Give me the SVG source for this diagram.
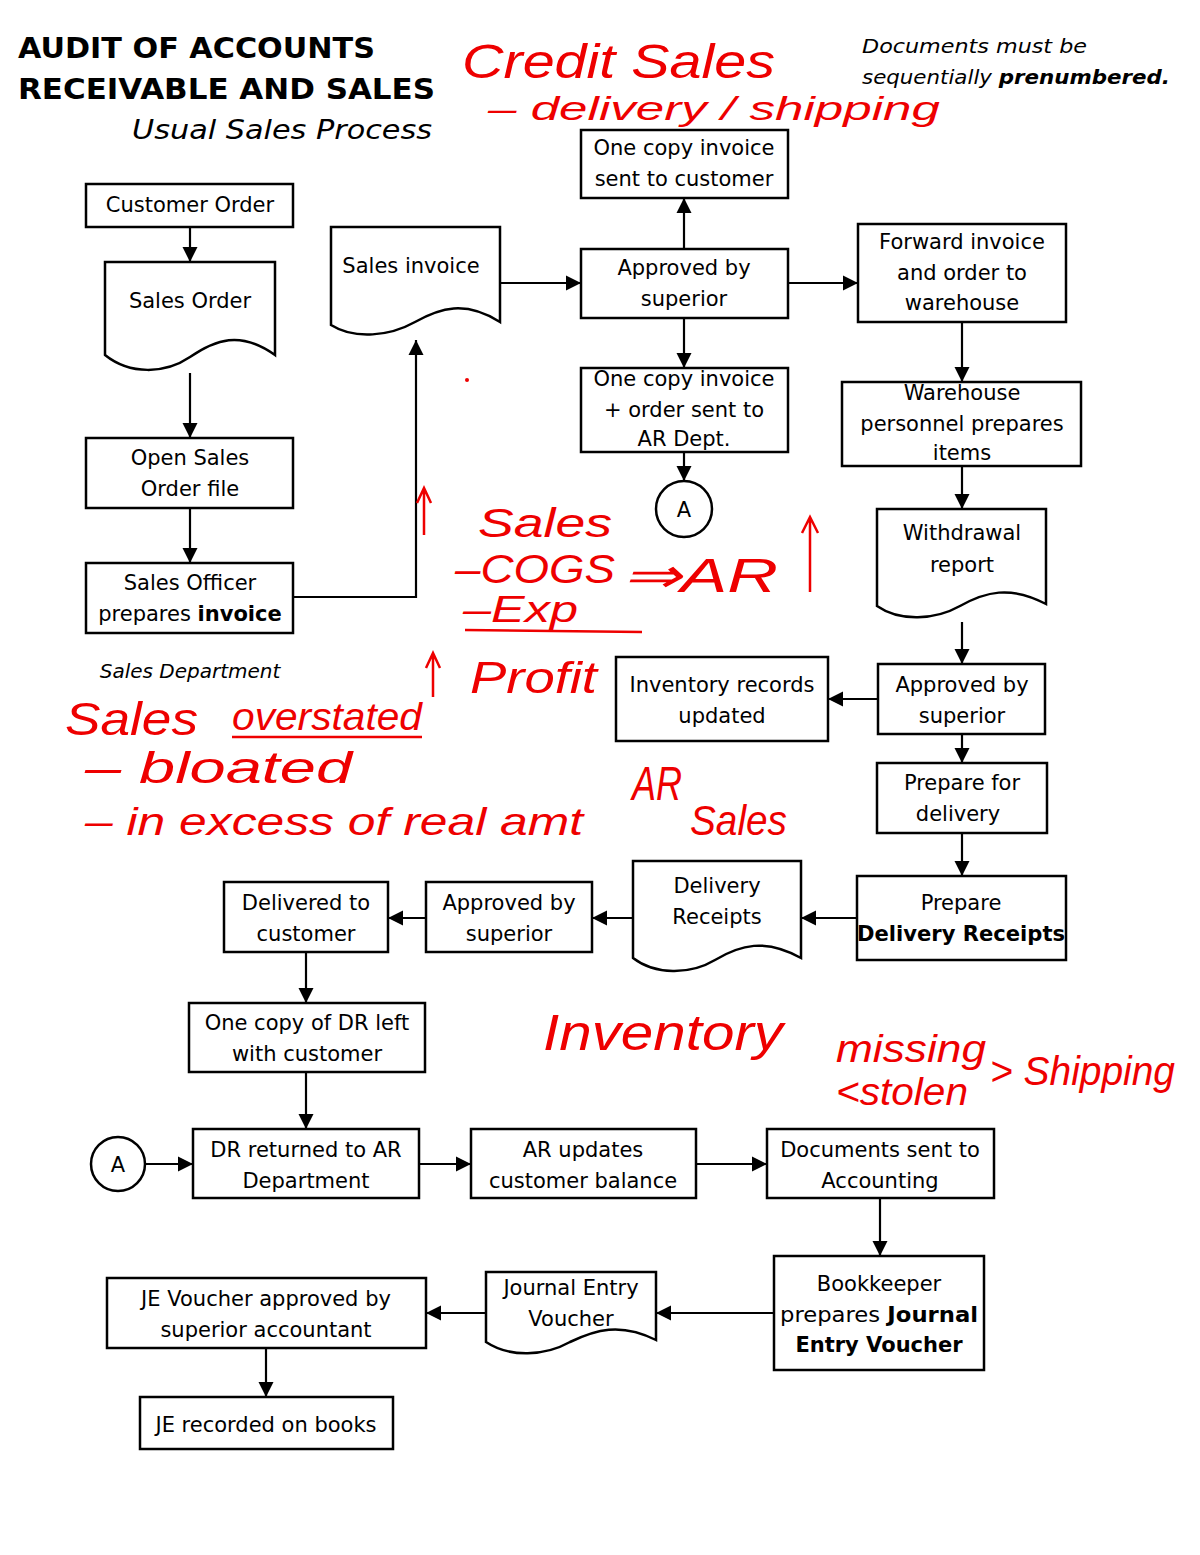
<svg xmlns="http://www.w3.org/2000/svg" width="1200" height="1555" viewBox="0 0 1200 1555">
<defs>
<marker id="ah" viewBox="0 0 10 10" refX="10" refY="5" markerWidth="7" markerHeight="7" orient="auto"><path d="M0,0 L10,5 L0,10 Z" fill="#000"/></marker>
<style>
.b{fill:#fff;stroke:#000;stroke-width:2.5}
.t{font-family:"DejaVu Sans",Verdana,sans-serif;font-size:21px;text-anchor:middle;fill:#000}
.c{fill:none;stroke:#000;stroke-width:2.2;marker-end:url(#ah)}
.r{font-family:"Liberation Sans",Arial,sans-serif;fill:#e00;font-style:italic}
.rl{fill:none;stroke:#e00;stroke-width:2.5}
</style>
</defs>
<rect width="1200" height="1555" fill="#fff"/>
<g id="title" font-family="DejaVu Sans,Verdana,sans-serif">
<text x="18" y="58" font-size="28" font-weight="bold" textLength="357" lengthAdjust="spacingAndGlyphs">AUDIT OF ACCOUNTS</text>
<text x="18" y="99" font-size="28" font-weight="bold" textLength="417" lengthAdjust="spacingAndGlyphs">RECEIVABLE AND SALES</text>
<text x="132" y="139" font-size="26" font-style="italic" textLength="300" lengthAdjust="spacingAndGlyphs">Usual Sales Process</text>
<text x="862" y="53" font-size="20" font-style="italic" textLength="225" lengthAdjust="spacingAndGlyphs">Documents must be</text>
<text x="862" y="84" font-size="20" font-style="italic" textLength="308" lengthAdjust="spacingAndGlyphs">sequentially <tspan font-weight="bold">prenumbered.</tspan></text>
<text x="190" y="678" font-size="20" font-style="italic" text-anchor="middle">Sales Department</text>
</g>
<g id="connectors">
<path class="c" d="M190,227 V262"/>
<path class="c" d="M190,373 V438"/>
<path class="c" d="M190,508 V563"/>
<path class="c" d="M293,597 H416 V340"/>
<path class="c" d="M500,283 H581"/>
<path class="c" d="M684,249 V198"/>
<path class="c" d="M788,283 H858"/>
<path class="c" d="M684,318 V368"/>
<path class="c" d="M684,452 V481"/>
<path class="c" d="M962,322 V382"/>
<path class="c" d="M962,466 V509"/>
<path class="c" d="M962,622 V664"/>
<path class="c" d="M878,699 H828"/>
<path class="c" d="M962,734 V763"/>
<path class="c" d="M962,833 V876"/>
<path class="c" d="M857,918 H801"/>
<path class="c" d="M633,918 H592"/>
<path class="c" d="M426,918 H388"/>
<path class="c" d="M306,952 V1003"/>
<path class="c" d="M306,1072 V1129"/>
<path class="c" d="M145,1164 H193"/>
<path class="c" d="M419,1164 H471"/>
<path class="c" d="M696,1164 H767"/>
<path class="c" d="M880,1198 V1256"/>
<path class="c" d="M774,1313 H656"/>
<path class="c" d="M486,1313 H426"/>
<path class="c" d="M266,1348 V1397"/>
</g>
<g id="customer-order"><rect class="b" x="86" y="184" width="207" height="43"/><text class="t" x="190" y="212">Customer Order</text></g>
<g id="sales-order"><path class="b" d="M105,262 H275 V355 C240,330 215,340 190,357 C165,374 130,375 105,355 Z"/><text class="t" x="190" y="308">Sales Order</text></g>
<g id="open-sales-order"><rect class="b" x="86" y="438" width="207" height="70"/><text class="t" x="190" y="465">Open Sales</text><text class="t" x="190" y="496">Order file</text></g>
<g id="sales-officer"><rect class="b" x="86" y="563" width="207" height="70"/><text class="t" x="190" y="590">Sales Officer</text><text class="t" x="190" y="621">prepares <tspan font-weight="bold">invoice</tspan></text></g>
<g id="sales-invoice"><path class="b" d="M331,227 H500 V322 C465,300 440,308 415,322 C390,336 355,340 331,325 Z"/><text class="t" x="411" y="273">Sales invoice</text></g>
<g id="approved1"><rect class="b" x="581" y="249" width="207" height="69"/><text class="t" x="684" y="275">Approved by</text><text class="t" x="684" y="306">superior</text></g>
<g id="copy-customer"><rect class="b" x="581" y="130" width="207" height="68"/><text class="t" x="684" y="155">One copy invoice</text><text class="t" x="684" y="186">sent to customer</text></g>
<g id="copy-ar"><rect class="b" x="581" y="368" width="207" height="84"/><text class="t" x="684" y="386">One copy invoice</text><text class="t" x="684" y="417">+ order sent to</text><text class="t" x="684" y="446">AR Dept.</text></g>
<g id="conn-a1"><circle class="b" cx="684" cy="509" r="28"/><text class="t" x="684" y="517">A</text></g>
<g id="forward"><rect class="b" x="858" y="224" width="208" height="98"/><text class="t" x="962" y="249">Forward invoice</text><text class="t" x="962" y="280">and order to</text><text class="t" x="962" y="310">warehouse</text></g>
<g id="warehouse"><rect class="b" x="842" y="382" width="239" height="84"/><text class="t" x="962" y="400">Warehouse</text><text class="t" x="962" y="431">personnel prepares</text><text class="t" x="962" y="460">items</text></g>
<g id="withdrawal"><path class="b" d="M877,509 H1046 V604 C1010,585 985,592 960,606 C935,620 900,622 877,606 Z"/><text class="t" x="962" y="540">Withdrawal</text><text class="t" x="962" y="572">report</text></g>
<g id="approved2"><rect class="b" x="878" y="664" width="167" height="70"/><text class="t" x="962" y="692">Approved by</text><text class="t" x="962" y="723">superior</text></g>
<g id="inventory-records"><rect class="b" x="616" y="657" width="212" height="84"/><text class="t" x="722" y="692">Inventory records</text><text class="t" x="722" y="723">updated</text></g>
<g id="prepare-delivery"><rect class="b" x="877" y="763" width="170" height="70"/><text class="t" x="962" y="790">Prepare for</text><text class="t" x="958" y="821">delivery</text></g>
<g id="prepare-dr"><rect class="b" x="857" y="876" width="209" height="84"/><text class="t" x="961" y="910">Prepare</text><text class="t" x="961" y="941" font-weight="bold" textLength="208" lengthAdjust="spacingAndGlyphs">Delivery Receipts</text></g>
<g id="delivery-receipts"><path class="b" d="M633,861 H801 V958 C765,938 740,945 715,960 C690,975 655,975 633,958 Z"/><text class="t" x="717" y="893">Delivery</text><text class="t" x="717" y="924">Receipts</text></g>
<g id="approved3"><rect class="b" x="426" y="882" width="166" height="70"/><text class="t" x="509" y="910">Approved by</text><text class="t" x="509" y="941">superior</text></g>
<g id="delivered"><rect class="b" x="224" y="882" width="164" height="70"/><text class="t" x="306" y="910">Delivered to</text><text class="t" x="306" y="941">customer</text></g>
<g id="copy-dr"><rect class="b" x="189" y="1003" width="236" height="69"/><text class="t" x="307" y="1030">One copy of DR left</text><text class="t" x="307" y="1061">with customer</text></g>
<g id="conn-a2"><circle class="b" cx="118" cy="1164" r="27"/><text class="t" x="118" y="1172">A</text></g>
<g id="dr-returned"><rect class="b" x="193" y="1129" width="226" height="69"/><text class="t" x="306" y="1157">DR returned to AR</text><text class="t" x="306" y="1188">Department</text></g>
<g id="ar-updates"><rect class="b" x="471" y="1129" width="225" height="69"/><text class="t" x="583" y="1157">AR updates</text><text class="t" x="583" y="1188">customer balance</text></g>
<g id="docs-accounting"><rect class="b" x="767" y="1129" width="227" height="69"/><text class="t" x="880" y="1157">Documents sent to</text><text class="t" x="880" y="1188">Accounting</text></g>
<g id="bookkeeper"><rect class="b" x="774" y="1256" width="210" height="114"/><text class="t" x="879" y="1291">Bookkeeper</text><text class="t" x="879" y="1322" textLength="198" lengthAdjust="spacingAndGlyphs">prepares <tspan font-weight="bold">Journal</tspan></text><text class="t" x="879" y="1352" font-weight="bold">Entry Voucher</text></g>
<g id="jev"><path class="b" d="M486,1272 H656 V1340 C620,1322 595,1330 570,1342 C545,1356 510,1358 486,1342 Z"/><text class="t" x="571" y="1295">Journal Entry</text><text class="t" x="571" y="1326">Voucher</text></g>
<g id="je-approved"><rect class="b" x="107" y="1278" width="319" height="70"/><text class="t" x="266" y="1306">JE Voucher approved by</text><text class="t" x="266" y="1337">superior accountant</text></g>
<g id="je-recorded"><rect class="b" x="140" y="1397" width="253" height="52"/><text class="t" x="266" y="1432">JE recorded on books</text></g>
<g id="annotations">
<text class="r" x="462" y="78" font-size="48" textLength="313" lengthAdjust="spacingAndGlyphs">Credit Sales</text>
<text class="r" x="488" y="120" font-size="34" textLength="452" lengthAdjust="spacingAndGlyphs">– delivery / shipping</text>
<text class="r" x="478" y="537" font-size="40" textLength="134" lengthAdjust="spacingAndGlyphs">Sales</text>
<text class="r" x="455" y="583" font-size="40" textLength="160" lengthAdjust="spacingAndGlyphs">–COGS</text>
<text class="r" x="463" y="622" font-size="36" textLength="115" lengthAdjust="spacingAndGlyphs">–Exp</text>
<path class="rl" d="M465,630 L642,632"/>
<text class="r" x="622" y="592" font-size="48" textLength="156" lengthAdjust="spacingAndGlyphs">⇒AR</text>
<path class="rl" d="M810,592 V520 M802,533 L810,517 L818,533"/>
<path class="rl" d="M424,535 V490 M417,503 L424,488 L431,503"/>
<path class="rl" d="M433,697 V655 M426,668 L433,653 L440,668"/>
<text class="r" x="470" y="693" font-size="44" textLength="127" lengthAdjust="spacingAndGlyphs">Profit</text>
<text class="r" x="65" y="735" font-size="46" textLength="133" lengthAdjust="spacingAndGlyphs">Sales</text>
<text class="r" x="232" y="730" font-size="38" textLength="190" lengthAdjust="spacingAndGlyphs">overstated</text>
<path class="rl" d="M232,737 H422"/>
<text class="r" x="85" y="783" font-size="44" textLength="267" lengthAdjust="spacingAndGlyphs">– bloated</text>
<text class="r" x="85" y="835" font-size="38" textLength="498" lengthAdjust="spacingAndGlyphs">– in excess of real amt</text>
<text class="r" x="632" y="800" font-size="48" textLength="50" lengthAdjust="spacingAndGlyphs">AR</text>
<text class="r" x="690" y="835" font-size="42" textLength="97" lengthAdjust="spacingAndGlyphs">Sales</text>
<circle cx="467" cy="380" r="2" fill="#e00"/>
<text class="r" x="543" y="1050" font-size="50" textLength="240" lengthAdjust="spacingAndGlyphs">Inventory</text>
<text class="r" x="836" y="1062" font-size="38" textLength="150" lengthAdjust="spacingAndGlyphs">missing</text>
<text class="r" x="836" y="1105" font-size="38" textLength="132" lengthAdjust="spacingAndGlyphs">&lt;stolen</text>
<text class="r" x="990" y="1085" font-size="40" textLength="185" lengthAdjust="spacingAndGlyphs">&gt; Shipping</text>
</g>
</svg>
